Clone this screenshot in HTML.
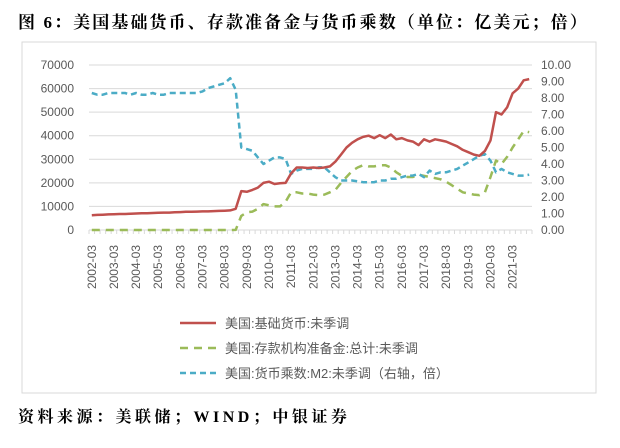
<!DOCTYPE html>
<html><head><meta charset="utf-8">
<style>
body{margin:0;background:#fff;width:620px;height:448px;overflow:hidden;font-family:"Liberation Sans","Noto Sans CJK SC",sans-serif;}
#title{position:absolute;left:18px;top:8px;font-family:"Liberation Serif","Noto Serif CJK SC",serif;font-weight:bold;font-size:17px;letter-spacing:2.1px;color:#000;white-space:nowrap;}
#source{position:absolute;left:18px;top:404px;font-family:"Liberation Serif","Noto Serif CJK SC",serif;font-weight:bold;font-size:16px;letter-spacing:3.5px;color:#000;white-space:nowrap;}
svg{position:absolute;left:0;top:0;}
</style></head><body>
<div id="title">图 6：美国基础货币、存款准备金与货币乘数（单位：亿美元；倍）</div>
<svg id="chart" width="620" height="448"></svg>
<div id="source">资料来源：美联储；WIND；中银证券</div>
<script>
const years=["2002","2003","2004","2005","2006","2007","2008","2009","2010","2011","2012","2013","2014","2015","2016","2017","2018","2019","2020","2021"];
const leftTicks=[0,10000,20000,30000,40000,50000,60000,70000];
const rightTicks=["0.00","1.00","2.00","3.00","4.00","5.00","6.00","7.00","8.00","9.00","10.00"];
const baseMoney=[6300,6400,6500,6600,6700,6800,6800,6900,7000,7100,7100,7200,7300,7400,7400,7500,7600,7700,7700,7800,7900,7900,8000,8100,8200,8300,9000,16500,16200,17000,18000,20000,20500,19500,19800,20000,24000,26500,26500,26300,26500,26300,26500,27000,29000,32000,35000,37000,38500,39500,40000,39000,40200,39000,40500,38500,39000,38000,37500,36000,38500,37500,38500,38000,37500,36500,35500,34000,33000,32000,31500,33500,38000,50000,49000,52000,58000,60000,63500,64000];
const reserves=[20,20,20,20,20,20,20,20,20,20,20,20,20,20,20,20,20,20,20,20,20,20,20,20,20,20,50,6000,7500,7800,9000,11000,10500,10000,10000,12000,16000,16000,15500,15500,15000,14800,15000,16000,17000,20000,22500,25000,26500,27500,27000,27000,27500,27500,26500,24500,23000,22500,22500,23500,23000,22500,22000,21500,20500,19000,17500,16000,15500,15000,14800,16000,22500,29500,28000,31000,35000,38500,42000,41500];
const multiplier=[8.3,8.2,8.2,8.3,8.3,8.3,8.3,8.2,8.3,8.2,8.2,8.3,8.2,8.2,8.3,8.3,8.3,8.3,8.3,8.3,8.4,8.6,8.7,8.8,8.9,9.2,8.5,5.0,4.9,4.8,4.4,4.0,4.2,4.4,4.4,4.3,3.4,3.6,3.7,3.7,3.7,3.8,3.8,3.5,3.2,3.0,3.0,3.0,2.95,2.9,2.9,2.9,3.0,3.0,3.1,3.1,3.2,3.3,3.3,3.4,3.2,3.6,3.4,3.5,3.5,3.6,3.7,3.9,4.1,4.3,4.5,4.6,4.2,3.5,3.7,3.5,3.4,3.3,3.3,3.35];

const svg=document.getElementById('chart');const NS='http://www.w3.org/2000/svg';
const X0=89,X1=532,Y0=230,Y1=65;const n=baseMoney.length;const cw=(X1-X0)/n;
const xc=i=>X0+(i+0.5)*cw;
const yl=v=>Y0-(v/70000)*(Y0-Y1);
const yr=v=>Y0-(v/10)*(Y0-Y1);
function mk(t,a,p){const e=document.createElementNS(NS,t);for(const k in a)e.setAttribute(k,a[k]);(p||svg).appendChild(e);return e;}
const frame=mk('rect',{x:22,y:42,width:574,height:351,fill:'none',stroke:'#d9d9d9','stroke-width':1});


leftTicks.forEach((v,i)=>{
  if(v>0){const g=mk('line',{x1:X0,x2:X1,y1:yl(v),y2:yl(v),stroke:'#d9d9d9','stroke-width':1});
  
  }
  const t=mk('text',{x:74,y:yl(v)+4,'text-anchor':'end','font-size':12,fill:'#595959'});t.textContent=v;
  
  
});
rightTicks.forEach((s,i)=>{
  const t=mk('text',{x:541,y:yr(i)+4,'font-size':12,fill:'#595959'});t.textContent=s;
  
  
});
const ax=mk('line',{x1:X0,x2:X1,y1:Y0,y2:Y0,stroke:'#d9d9d9','stroke-width':1});


for(let i=0;i<=n;i++){const tk=mk('line',{x1:X0+i*cw,x2:X0+i*cw,y1:Y0,y2:Y0+4,stroke:'#d9d9d9','stroke-width':1});

}
years.forEach((y,k)=>{const x=xc(k*4);
  const t=mk('text',{x:0,y:0,transform:`translate(${x+4},245) rotate(-90)`,'text-anchor':'end','font-size':12,fill:'#595959'});t.textContent=y+'-03';
  
  
});
function line(arr,yf,col,dash,name,w){const d=arr.map((v,i)=>(i?'L':'M')+xc(i).toFixed(1)+','+yf(v).toFixed(1)).join('');
  const p=mk('path',{d,fill:'none',stroke:col,'stroke-width':w,'stroke-dasharray':dash,'stroke-linejoin':'round'});
  
  }
line(reserves,yl,'#9bbb59','8,6','reserves-line',2.5);
line(multiplier,yr,'#4bacc6','6,4','multiplier-line',2.5);
line(baseMoney,yl,'#c0504d','none','base-money-line',2.5);
const leg=[['#c0504d','none','美国:基础货币:未季调'],['#9bbb59','8,6','美国:存款机构准备金:总计:未季调'],['#4bacc6','6,4','美国:货币乘数:M2:未季调（右轴，倍）']];
leg.forEach((l,i)=>{const y=323+i*25;
  const ln=mk('line',{x1:180,x2:216,y1:y,y2:y,stroke:l[0],'stroke-width':2.5,'stroke-dasharray':l[1]});
  
  
  const t=mk('text',{x:225,y:y+5,'font-size':13,fill:'#595959'});t.textContent=l[2];
  
  
});
</script>
</body></html>
